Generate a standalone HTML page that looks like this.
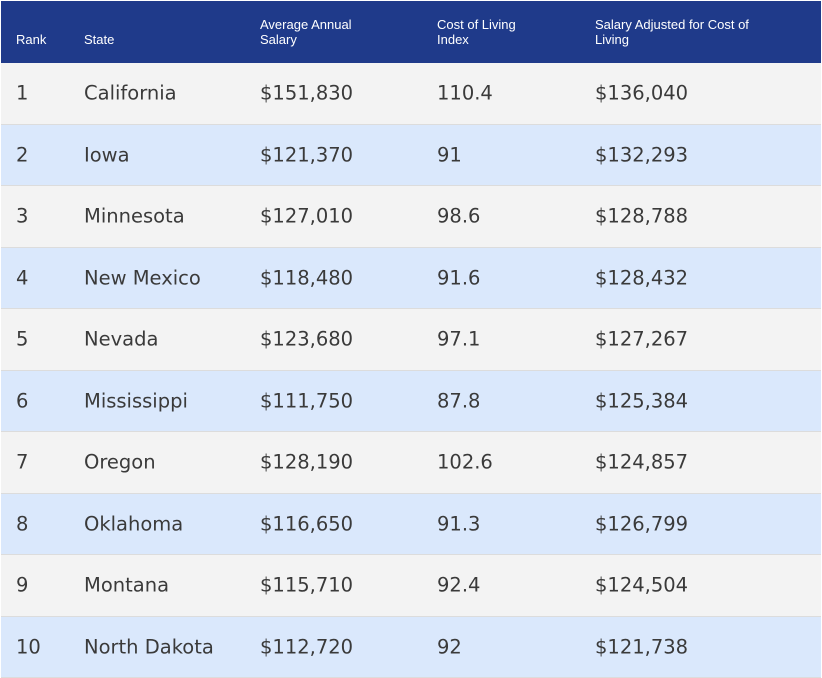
<!DOCTYPE html>
<html><head><meta charset="utf-8"><style>
body{margin:0;width:822px;height:678px;background:#fff;overflow:hidden}
#t{position:absolute;left:1px;top:1px;width:820px}
.hdr{height:62px;background:#1f3a8a;position:relative;color:#fff;font:13px "Liberation Sans",sans-serif;line-height:15px}
.hdr div{position:absolute;bottom:16px}
.row{height:61.5px;position:relative;box-sizing:border-box;border-bottom:1px solid #dcdcdc;font:19.5px "DejaVu Sans",sans-serif;color:#3a3a3a}
.row div{position:absolute;top:50%;transform:translateY(-50%)}
.odd{background:#f3f3f3}.even{background:#dae8fc}
</style></head><body>
<div id="t">
<div class="hdr">
<div style="left:15px">Rank</div>
<div style="left:83px">State</div>
<div style="left:259px">Average Annual<br>Salary</div>
<div style="left:436px">Cost of Living<br>Index</div>
<div style="left:594px">Salary Adjusted for Cost of<br>Living</div>
</div>
<div id="body"></div>
</div>
<script>
const ranks=["1","2","3","4","5","6","7","8","9","10"];
const states=["California","Iowa","Minnesota","New Mexico","Nevada","Mississippi","Oregon","Oklahoma","Montana","North Dakota"];
const salaries=["$151,830","$121,370","$127,010","$118,480","$123,680","$111,750","$128,190","$116,650","$115,710","$112,720"];
const indexes=["110.4","91","98.6","91.6","97.1","87.8","102.6","91.3","92.4","92"];
const adjusted=["$136,040","$132,293","$128,788","$128,432","$127,267","$125,384","$124,857","$126,799","$124,504","$121,738"];
const cols=[15,83,259,436,594];
const names=["rank-cell","state-cell","salary-cell","index-cell","adjusted-cell"];
const body=document.getElementById('body');
ranks.forEach((r,i)=>{
  const row=document.createElement('div');
  row.className='row '+(i%2?'even':'odd');
  
  
  [r,states[i],salaries[i],indexes[i],adjusted[i]].forEach((v,j)=>{
    const c=document.createElement('div');
    c.style.left=cols[j]+'px';
    c.textContent=v;
    
    
    row.appendChild(c);
  });
  body.appendChild(row);
});
</script>
</body></html>
